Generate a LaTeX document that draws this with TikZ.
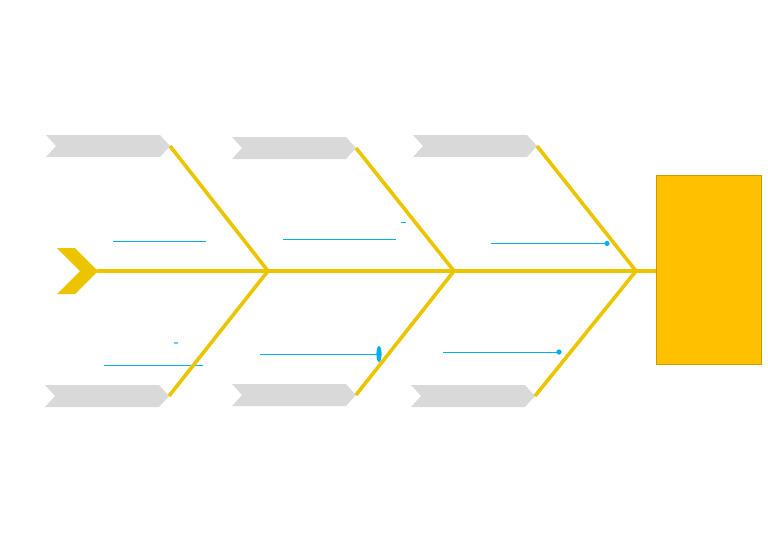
\documentclass[tikz,border=0pt]{standalone}
\definecolor{gold}{RGB}{236,197,0}
\definecolor{boxfill}{RGB}{255,192,0}
\definecolor{boxline}{RGB}{205,155,0}
\definecolor{bannergray}{RGB}{217,217,217}
\definecolor{cyanline}{RGB}{0,176,240}
\begin{document}
\begin{tikzpicture}[x=1pt,y=-1pt,
  bone/.style={draw=gold,line width=3.6pt,line join=miter},
  note/.style={draw=cyanline,line width=1pt},
  banner/.pic={\fill[bannergray] (-124,-11)--(-10,-11)--(0,0)--(-10,11)--(-124,11)--(-114,0)--cycle;}]
\useasboundingbox (0,0) rectangle (768,544);
% head box
\node[draw=boxline,line width=0.6pt,fill=boxfill,minimum width=105pt,minimum height=189pt,inner sep=0pt,outer sep=0pt,anchor=north west] (head) at (656,175) {};
% key points
\coordinate (tail) at (97,271);
\coordinate (j1) at (268,271);
\coordinate (j2) at (454,271);
\coordinate (j3) at (636,271);
\coordinate (u1) at (170,146);
\coordinate (u2) at (356,148);
\coordinate (u3) at (537,146);
\coordinate (l1) at (169,396);
\coordinate (l2) at (356,395);
\coordinate (l3) at (535,396);
% banners
\pic at (u1) {banner};
\pic at (u2) {banner};
\pic at (u3) {banner};
\pic at (l1) {banner};
\pic at (l2) {banner};
\pic at (l3) {banner};
% note lines
\draw[note] (113,241.5) -- (206,241.5);
\draw[note] (283,239) -- (396,239);
\draw[cyanline,line width=1.4pt] (401,222.5) -- (405.5,222.5);
\draw[note,line width=1.3pt] (491,243.5) -- (607,243.5);
\fill[cyanline] (607,243.5) circle (2.6);
\draw[note] (104,365) -- (203,365);
\draw[cyanline!60,line width=1.2pt] (174,343) -- (177.5,343);
\draw[note] (260,354) -- (377,354);
\fill[cyanline] (379,354) ellipse [x radius=2.6, y radius=8];
\draw[note] (443,352) -- (559,352);
\fill[cyanline] (559,352) circle (2.6);
% tail chevron
\fill[gold] (57,248) -- (75,248) -- (98,271) -- (75,294) -- (57,294) -- (80,271) -- cycle;
% spine and bones
\draw[bone] (tail) -- (tail -| head.west);
\draw[bone] (u1) -- (j1) -- (l1);
\draw[bone] (u2) -- (j2) -- (l2);
\draw[bone] (u3) -- (j3) -- (l3);
\end{tikzpicture}
\end{document}
